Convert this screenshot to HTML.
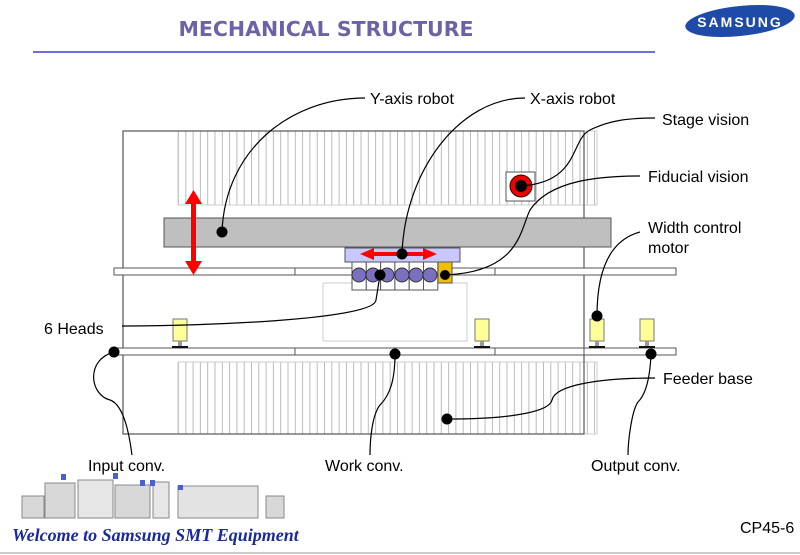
<!DOCTYPE html>
<html><head><meta charset="utf-8"><style>
html,body{margin:0;padding:0;background:#fff;}
svg{display:block;font-family:"Liberation Sans",Arial,sans-serif;}
</style></head><body>
<svg width="800" height="555" viewBox="0 0 800 555" xmlns="http://www.w3.org/2000/svg">
<defs>
<pattern id="h" x="178" y="0" width="7.3" height="10" patternUnits="userSpaceOnUse">
<line x1="0.5" y1="0" x2="0.5" y2="10" stroke="#bbb" stroke-width="1"/>
</pattern>
</defs>
<text x="326" y="36" text-anchor="middle" font-size="20.5" font-weight="bold" fill="#6b62a8" font-family="DejaVu Sans, sans-serif">MECHANICAL STRUCTURE</text>
<line x1="33" y1="52" x2="655" y2="52" stroke="#6f6fe0" stroke-width="2"/>
<ellipse cx="740" cy="21" rx="55" ry="15" transform="rotate(-6 740 21)" fill="#1e4aa8"/>
<text x="740" y="27" text-anchor="middle" font-size="14" font-weight="bold" fill="#fff" letter-spacing="2">SAMSUNG</text>

<rect x="178" y="131" width="419" height="74" fill="url(#h)" stroke="#ccc"/>
<rect x="178" y="362" width="419" height="72" fill="url(#h)" stroke="#ccc"/>
<rect x="123" y="131" width="461" height="303" fill="none" stroke="#555" stroke-width="1.2"/>
<rect x="506" y="172" width="29" height="29" fill="#fff" stroke="#555"/>
<circle cx="521" cy="186" r="11" fill="#e00" stroke="#400"/>
<circle cx="521" cy="186" r="6" fill="#000"/>
<rect x="164" y="218" width="447" height="29" fill="#bfbfbf" stroke="#555"/>
<rect x="323" y="283" width="144" height="58" fill="none" stroke="#ccc"/>
<rect x="114" y="268" width="562" height="7" fill="#fff" stroke="#555"/>
<line x1="295" y1="268" x2="295" y2="275" stroke="#555"/>
<line x1="495" y1="268" x2="495" y2="275" stroke="#555"/>
<rect x="114" y="348" width="562" height="7" fill="#fff" stroke="#555"/>
<line x1="295" y1="348" x2="295" y2="355" stroke="#555"/>
<line x1="495" y1="348" x2="495" y2="355" stroke="#555"/>
<line x1="584" y1="348" x2="584" y2="355" stroke="#555"/>
<rect x="345" y="248" width="115" height="14" fill="#c8c8ff" stroke="#555"/>
<g stroke="#555" fill="#fff">
<rect x="352" y="262" width="14.3" height="28"/><rect x="366.3" y="262" width="14.3" height="28"/>
<rect x="380.6" y="262" width="14.3" height="28"/><rect x="394.9" y="262" width="14.3" height="28"/>
<rect x="409.2" y="262" width="14.3" height="28"/><rect x="423.5" y="262" width="14.3" height="28"/>
<rect x="438" y="262" width="14" height="21" fill="#f0c000"/>
</g>
<g fill="#7b6fc0" stroke="#333">
<circle cx="359" cy="275" r="7"/><circle cx="373" cy="275" r="7"/><circle cx="387" cy="275" r="7"/>
<circle cx="402" cy="275" r="7"/><circle cx="416" cy="275" r="7"/><circle cx="430" cy="275" r="7"/>
</g>
<g>
<rect x="173" y="319" width="14" height="22" fill="#ffff99" stroke="#777"/><rect x="178" y="341" width="4" height="5" fill="#999"/><rect x="172" y="346" width="16" height="2" fill="#111"/>
<rect x="475" y="319" width="14" height="22" fill="#ffff99" stroke="#777"/><rect x="480" y="341" width="4" height="5" fill="#999"/><rect x="474" y="346" width="16" height="2" fill="#111"/>
<rect x="590" y="319" width="14" height="22" fill="#ffff99" stroke="#777"/><rect x="595" y="341" width="4" height="5" fill="#999"/><rect x="589" y="346" width="16" height="2" fill="#111"/>
<rect x="640" y="319" width="14" height="22" fill="#ffff99" stroke="#777"/><rect x="645" y="341" width="4" height="5" fill="#999"/><rect x="639" y="346" width="16" height="2" fill="#111"/>
</g>
<g fill="#f00">
<rect x="191" y="200" width="5" height="65"/>
<polygon points="193.5,190 185,204 202,204"/>
<polygon points="193.5,275 185,261 202,261"/>
<rect x="370" y="252" width="57" height="4"/>
<polygon points="360,254 374,248 374,260"/>
<polygon points="437,254 423,248 423,260"/>
</g>
<g fill="none" stroke="#000" stroke-width="1.2">
<path d="M222,232 C225,150 290,98 365,98"/>
<path d="M402,254 C405,170 460,98 525,98"/>
<path d="M521,186 C580,182 570,140 590,130 C610,120 630,118 655,118"/>
<path d="M445,275 C520,272 520,230 530,210 C550,180 600,176 640,176"/>
<path d="M597,316 C597,270 610,240 640,232"/>
<path d="M122,326 C200,326 375,320 376,300 L380,275"/>
<path d="M114,352 C85,360 90,395 110,400 C125,405 130,440 132,455"/>
<path d="M395,354 C395,380 390,395 380,405 C372,415 370,440 370,455"/>
<path d="M447,419 C520,419 550,410 552,400 C555,385 600,378 655,378"/>
<path d="M651,354 C650,380 645,395 638,402 C632,410 628,440 628,455"/>
</g>
<g fill="#000">
<circle cx="222" cy="232" r="5.5"/><circle cx="402" cy="254" r="5.5"/><circle cx="445" cy="275" r="5"/>
<circle cx="380" cy="275" r="5.5"/><circle cx="597" cy="316" r="5.5"/><circle cx="114" cy="352" r="5.5"/>
<circle cx="395" cy="354" r="5.5"/><circle cx="651" cy="354" r="5.5"/><circle cx="447" cy="419" r="5.5"/>
</g>
<g font-size="16" fill="#000">
<text x="370" y="104">Y-axis robot</text>
<text x="530" y="104">X-axis robot</text>
<text x="662" y="125">Stage vision</text>
<text x="648" y="182">Fiducial vision</text>
<text x="648" y="233">Width control</text>
<text x="648" y="253">motor</text>
<text x="44" y="334">6 Heads</text>
<text x="663" y="384">Feeder base</text>
<text x="88" y="471">Input conv.</text>
<text x="325" y="471">Work conv.</text>
<text x="591" y="471">Output conv.</text>
<text x="740" y="533">CP45-6</text>
</g>
<g stroke="#888" fill="#d8d8d8">
<rect x="22" y="496" width="22" height="22"/>
<rect x="45" y="483" width="30" height="35"/>
<rect x="78" y="480" width="35" height="38" fill="#e6e6e6"/>
<rect x="115" y="485" width="35" height="33"/>
<rect x="153" y="482" width="16" height="36" fill="#e6e6e6"/>
<rect x="178" y="486" width="80" height="32" fill="#e3e3e3"/>
<rect x="266" y="496" width="18" height="22"/>
</g>
<g fill="#4a5fd0"><rect x="61" y="474" width="5" height="6"/><rect x="113" y="473" width="5" height="6"/><rect x="140" y="480" width="5" height="6"/><rect x="150" y="480" width="5" height="6"/><rect x="178" y="485" width="5" height="5"/></g>
<text x="12" y="541" font-family="Liberation Serif, serif" font-style="italic" font-weight="bold" font-size="18" fill="#1a2a9a">Welcome to Samsung SMT Equipment</text>
<line x1="0" y1="553" x2="800" y2="553" stroke="#bbb" stroke-width="1.5"/>
</svg>
</body></html>
